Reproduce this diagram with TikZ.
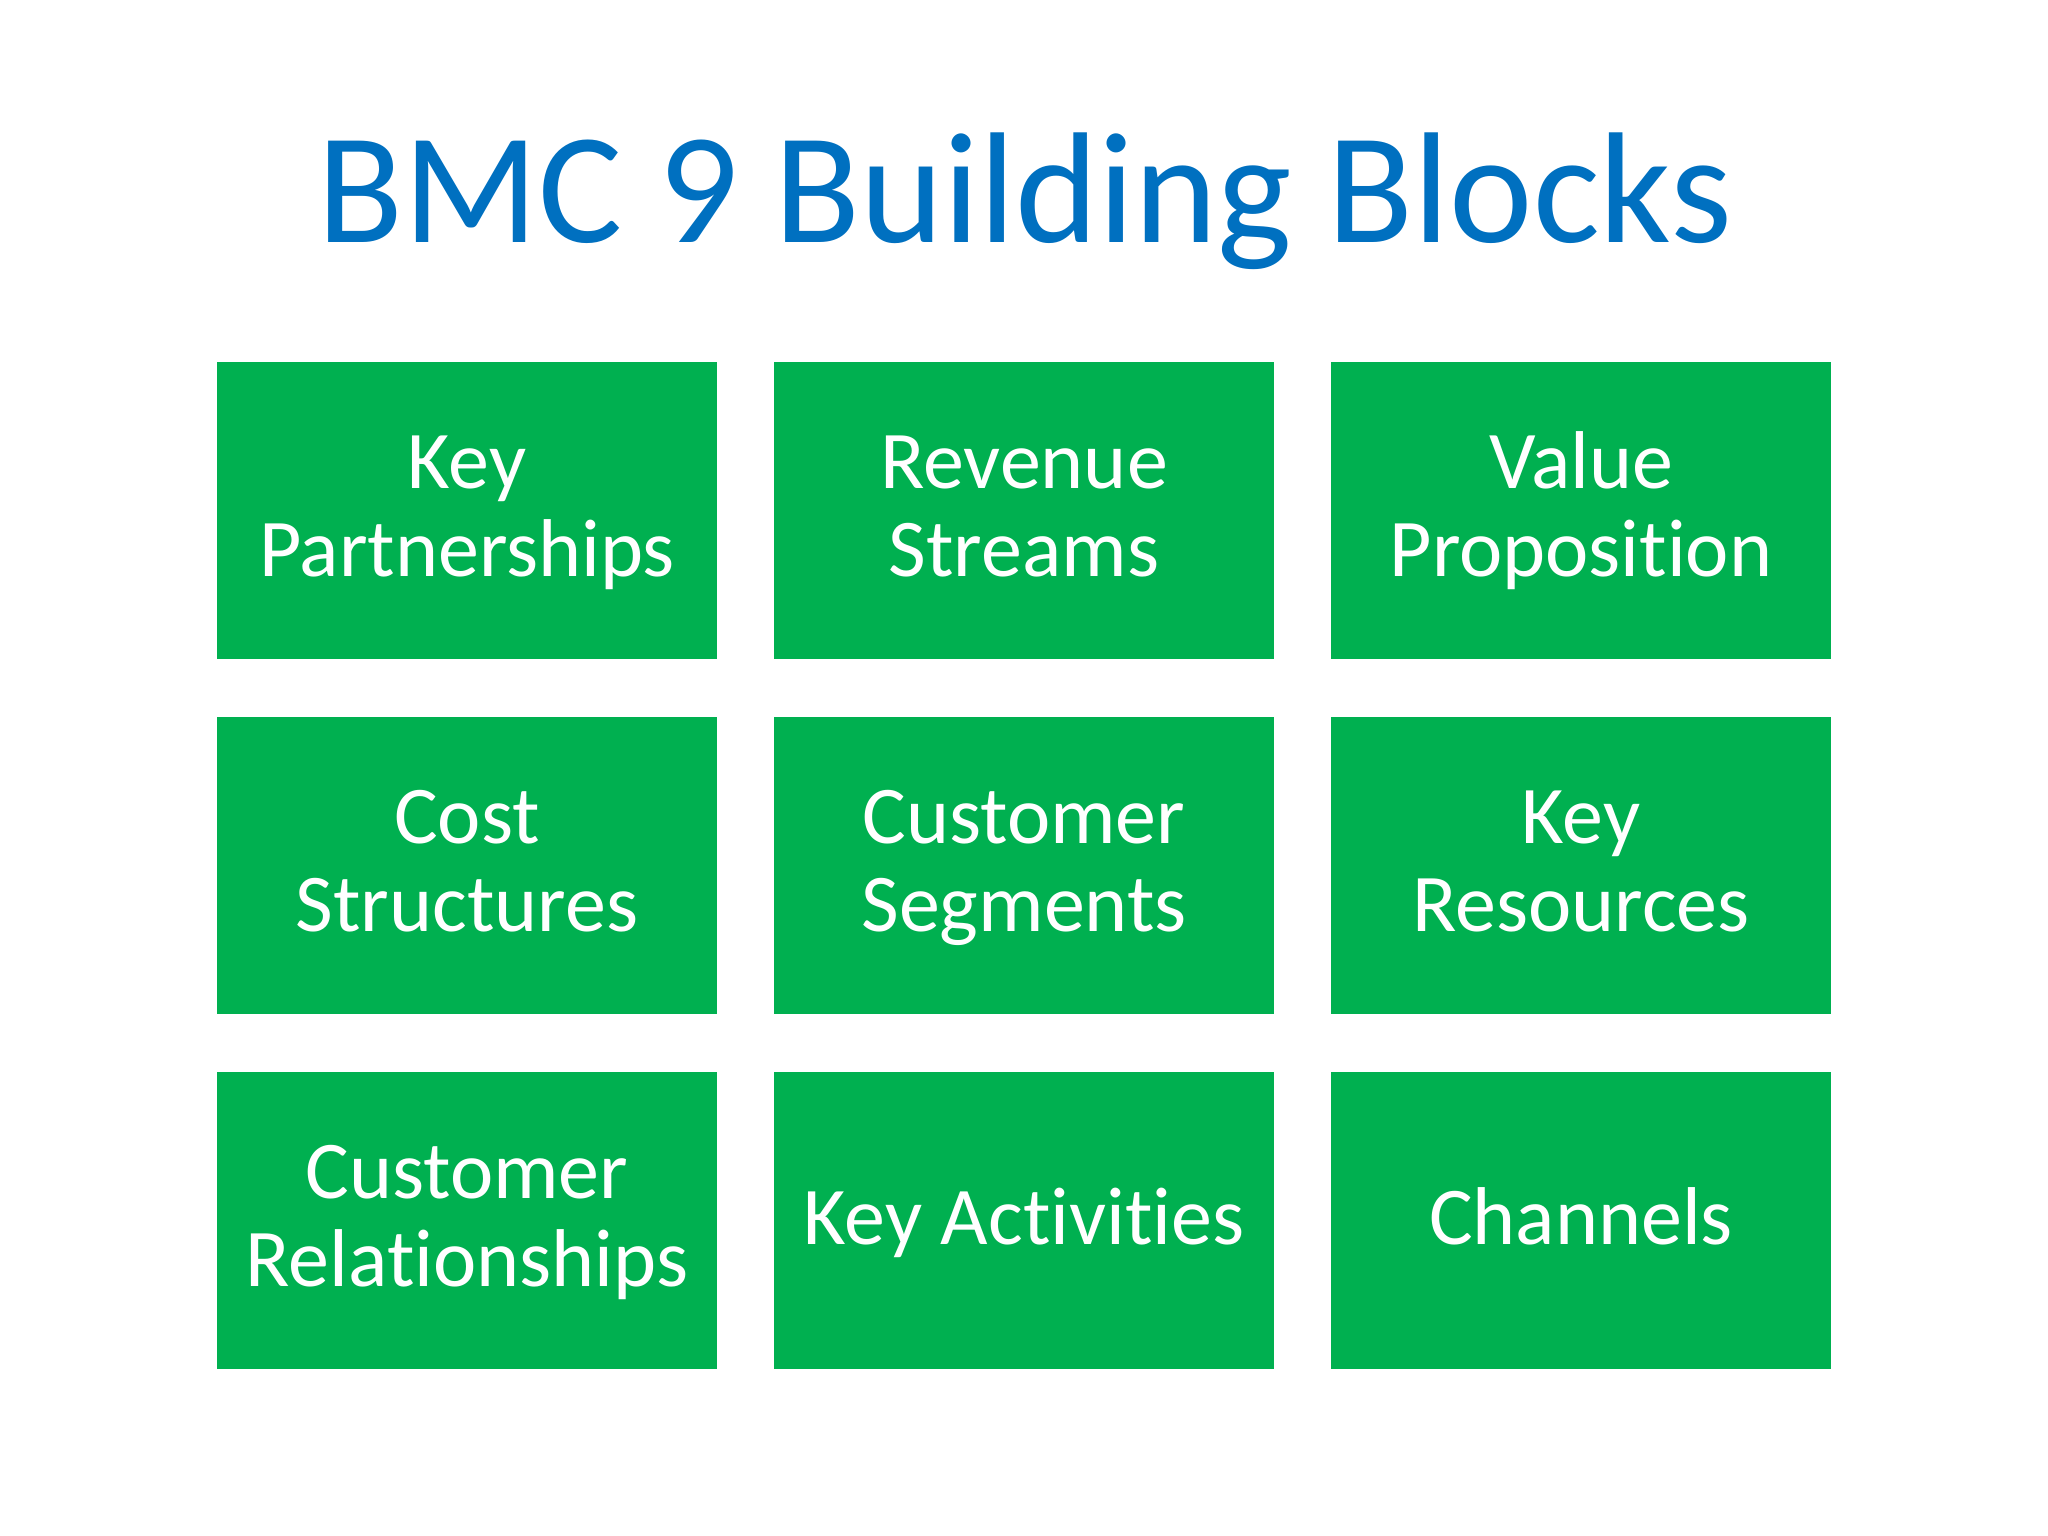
\documentclass[tikz,border=0pt]{standalone}
\usepackage{fontspec}
\setmainfont{Carlito}[Ligatures=NoCommon]
\definecolor{bmcgreen}{HTML}{00B050}
\definecolor{bmcblue}{HTML}{0070C0}
\newcommand{\bstrut}{\rule[-20pt]{0pt}{84pt}}
\begin{document}
\begin{tikzpicture}[x=1pt,y=-1pt,
  block/.style={fill=bmcgreen, draw=none, minimum width=500pt, minimum height=297pt, inner sep=0pt,
    text=white, align=center, font=\fontsize{82}{88}\selectfont}]
\useasboundingbox[fill=white] (0,0) rectangle (2048,1536);
\node[text=bmcblue, font=\fontsize{158}{160}\selectfont, anchor=base] (title) at (1025,242) {BMC 9 Building Blocks};
\node[block] (kp) at (467,510.5) {\bstrut Key\\\bstrut Partnerships};
\node[block] (rs) at (1024,510.5) {\bstrut Revenue\\\bstrut Streams};
\node[block] (vp) at (1581,510.5) {\bstrut Value\\\bstrut Proposition};
\node[block] (cs) at (467,865) {\bstrut Cost\\\bstrut Structures};
\node[block] (cseg) at (1024,865) {\bstrut Customer\\\bstrut Segments};
\node[block] (kr) at (1581,865) {\bstrut Key\\\bstrut Resources};
\node[block] (cr) at (467,1220.5) {\bstrut Customer\\\bstrut Relationships};
\node[block] (ka) at (1024,1220.5) {\bstrut\raisebox{-2pt}{Key Activities}};
\node[block] (ch) at (1581,1220.5) {\bstrut\raisebox{-2pt}{Channels}};
\end{tikzpicture}
\end{document}
